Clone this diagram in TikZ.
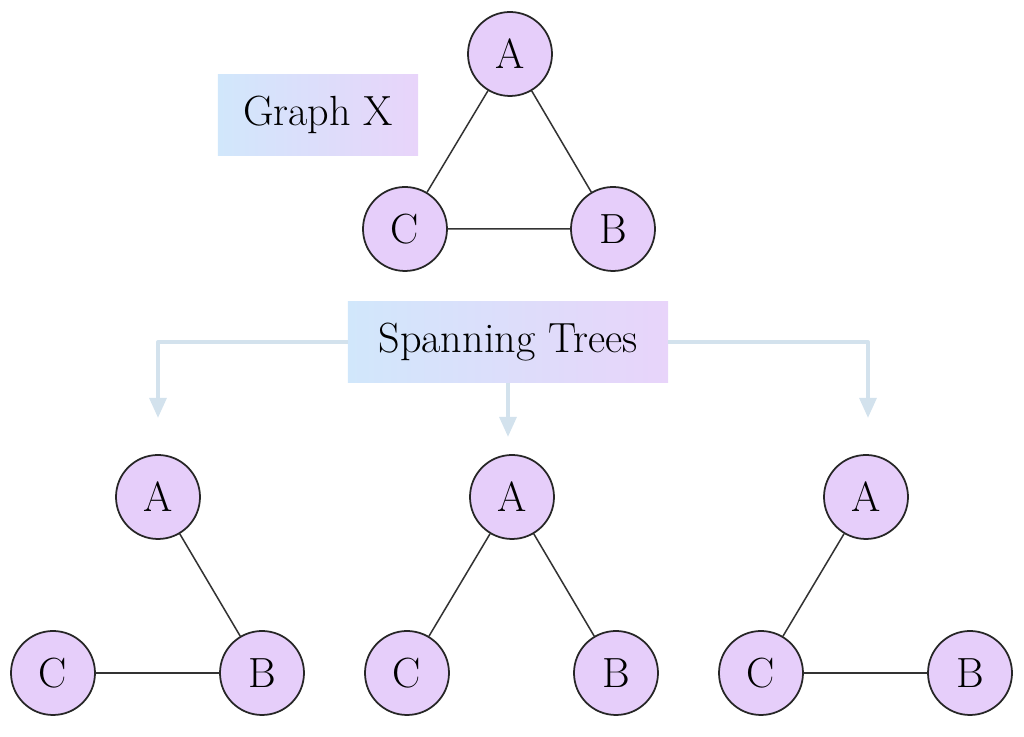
\documentclass[tikz,border=0pt]{standalone}
\usepackage{tikz}
\usetikzlibrary{arrows.meta}
\definecolor{vfill}{HTML}{E6CEFA}
\definecolor{bleft}{HTML}{D1E7FB}
\definecolor{bright}{HTML}{E8D4FA}
\definecolor{flowc}{HTML}{D3E2ED}
\begin{document}
\begin{tikzpicture}[line cap=round,line join=round,x=0.03cm,y=0.03cm,
    vert/.style={circle,draw=black!85,line width=1.5pt,fill=vfill,minimum size=2.52cm,inner sep=0pt,font=\fontsize{36}{43}\selectfont},
    label box/.style={rectangle,left color=bleft,right color=bright,minimum height=2.43cm,inner sep=0pt,font=\fontsize{36}{43}\selectfont},
    edge/.style={line width=1.3pt,draw=black!80},
    flow/.style={line width=3.4pt,draw=flowc,line cap=butt,-{Triangle[width=0.5cm,length=0.6cm]}}]
  \useasboundingbox (0,0) rectangle (1024,737);
  % original graph
  \node[label box,minimum width=6cm] (gx) at (318,622) {Graph X};
  \node[vert] (xA) at (510,683) {A};
  \node[vert] (xC) at (405,508) {C};
  \node[vert] (xB) at (613,508) {B};
  \draw[edge] (xA) -- (xC) (xA) -- (xB) (xC) -- (xB);
  % spanning trees
  \node[label box,minimum width=9.6cm] (span) at (508,395) {Spanning Trees};
  \coordinate (lend) at (158,319);
  \coordinate (mend) at (508,300);
  \coordinate (rend) at (868,319);
  \draw[flow] (span.west) -| (lend);
  \draw[flow] (span.south) -- (mend);
  \draw[flow] (span.east) -| (rend);
  \foreach \t/\cx in {1/158,2/512,3/866}{
    \node[vert] (t\t A) at (\cx,240) {A};
    \node[vert] (t\t C) at (\cx-105,64) {C};
    \node[vert] (t\t B) at (\cx+104,64) {B};
  }
  \draw[edge] (t1A) -- (t1B) (t1C) -- (t1B);
  \draw[edge] (t2A) -- (t2C) (t2A) -- (t2B);
  \draw[edge] (t3A) -- (t3C) (t3C) -- (t3B);
\end{tikzpicture}
\end{document}
